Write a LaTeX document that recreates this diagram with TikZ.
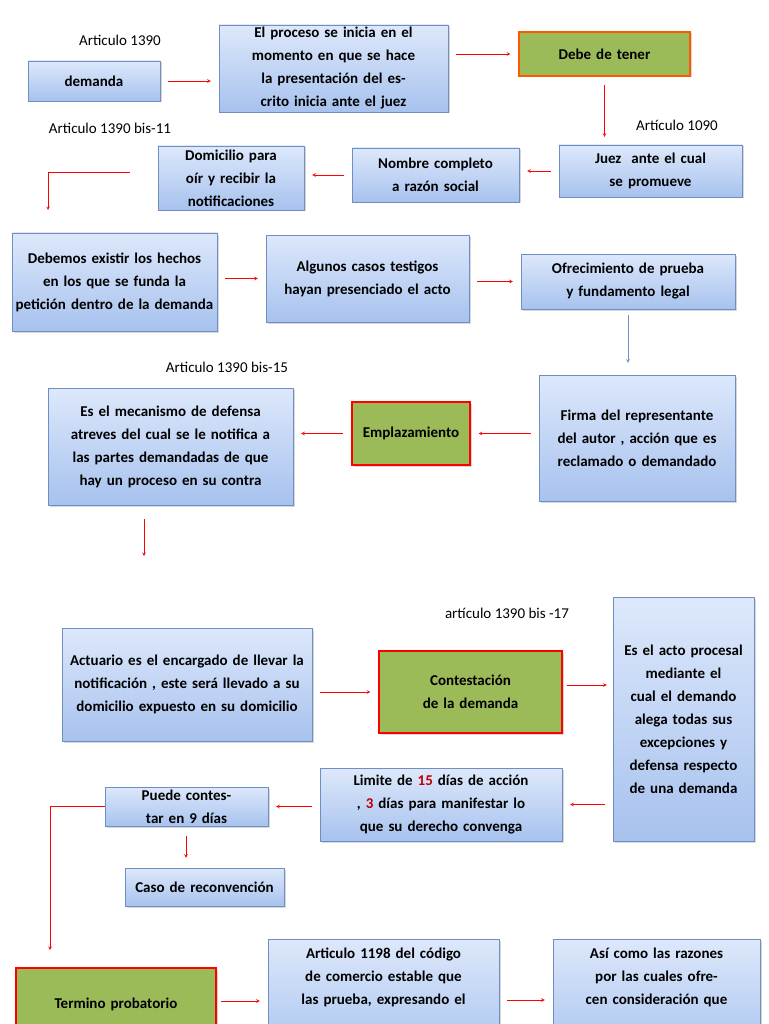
\documentclass[tikz,border=0pt]{standalone}
\usepackage{fontspec}
\setmainfont{Carlito}
\usetikzlibrary{shadows}
\definecolor{bluetop}{HTML}{DDE8FB}
\definecolor{bluebot}{HTML}{A7C2EE}
\definecolor{blueline}{HTML}{6F8FC0}
\definecolor{grn}{HTML}{9BBB59}
\definecolor{redt}{HTML}{C00000}
\tikzset{
 bx/.style={draw=blueline, top color=bluetop, bottom color=bluebot, align=center, font=\bfseries\fontsize{15}{23}\selectfont, inner sep=2pt, drop shadow={shadow xshift=1.5pt,shadow yshift=-1.5pt,opacity=0.3}},
 gb/.style={draw=red, line width=1.2pt, fill=grn, align=center, font=\bfseries\fontsize{15}{23}\selectfont, inner sep=2pt, drop shadow={shadow xshift=1.5pt,shadow yshift=-1.5pt,opacity=0.3}},
 lbl/.style={font=\fontsize{15}{18}\selectfont},
 ar/.style={->, red, >=stealth, line width=0.6pt, shorten >=8pt, shorten <=8pt},
}
\newcommand{\bbox}[7]{% style,name,x1,y1,x2,y2,text
 \pgfmathsetmacro{\cx}{(#3+#5)/2}\pgfmathsetmacro{\cy}{(#4+#6)/2}
 \pgfmathsetmacro{\ww}{#5-#3}\pgfmathsetmacro{\hh}{#6-#4}\pgfmathsetmacro{\tw}{#5-#3-6}
 \node[#1, minimum width=\ww pt, minimum height=\hh pt, text width=\tw pt] (#2) at (\cx,\cy) {#7};}
\begin{document}
\begin{tikzpicture}[x=1pt,y=-1pt]
\useasboundingbox[fill=white] (0,0) rectangle (768,1024);
\node[lbl] (l1) at (120,40) {Articulo 1390};
\node[lbl] (l2) at (110,128) {Articulo 1390 bis-11};
\node[lbl] (l3) at (677,125) {Artículo 1090};
\node[lbl] (l4) at (227,367) {Articulo 1390 bis-15};
\node[lbl] (l5) at (507,613) {artículo 1390 bis -17};
\bbox{bx}{dem}{28}{61}{160}{101}{demanda}
\bbox{bx}{pro}{219}{25}{448}{112}{El proceso se inicia en el momento en que se hace la presentación del escrito inicia ante el juez}
\bbox{gb,draw=orange!70!red}{deb}{519}{32}{690}{76}{Debe de tener}
\bbox{bx}{juez}{559}{145}{742}{197}{Juez \ ante el cual se promueve}
\bbox{bx}{nom}{352}{148}{519}{202}{Nombre completo a razón social}
\bbox{bx}{dom}{158}{146}{304}{210}{Domicilio para oír y recibir la notificaciones}
\bbox{bx}{debe}{12}{233}{217}{331}{Debemos existir los hechos en los que se funda la petición dentro de la demanda}
\bbox{bx}{alg}{266}{235}{469}{322}{Algunos casos testigos hayan presenciado el acto}
\bbox{bx}{ofr}{521}{254}{735}{309}{Ofrecimiento de prueba y fundamento legal}
\bbox{bx}{fir}{539}{375}{735}{501}{Firma del representante del autor , acción que es reclamado o demandado}
\bbox{gb}{emp}{352}{402}{470}{465}{Emplazamiento}
\bbox{bx}{mec}{48}{388}{293}{505}{Es el mecanismo de defensa atreves del cual se le notifica a las partes demandadas de que hay un proceso en su contra}
\bbox{bx}{act}{62}{628}{312}{741}{Actuario es el encargado de llevar la notificación , este será llevado a su domicilio expuesto en su domicilio}
\bbox{gb}{con}{379}{651}{562}{733}{Contestación de la demanda}
\bbox{bx}{esa}{613}{597}{754}{841}{Es el acto procesal mediante el cual el demando alega todas sus excepciones y defensa respecto de una demanda}
\bbox{bx}{lim}{320}{768}{562}{841}{Limite de {\color{redt}15} días de acción , {\color{redt}3} días para manifestar lo que su derecho convenga}
\bbox{bx}{pue}{105}{787}{268}{826}{Puede contestar en 9 días}
\bbox{bx}{cas}{125}{868}{284}{906}{Caso de reconvención}
\bbox{gb}{ter}{16}{968}{216}{1040}{Termino probatorio}
\bbox{bx}{a11}{268}{939}{499}{1060}{Articulo 1198 del código de comercio estable que las prueba, expresando el\\ \vphantom{x}\\ \vphantom{x}}
\bbox{bx}{asi}{553}{939}{760}{1060}{Así como las razones por las cuales ofrecen consideración que\\ \vphantom{x}\\ \vphantom{x}}
\draw[ar] (dem.east) -- (dem.east -| pro.west);
\draw[ar] (pro.east |- deb.west) -- (deb.west);
\draw[ar] (deb.south) -- (deb.south |- juez.north);
\draw[ar] (juez.west) -- (juez.west -| nom.east);
\draw[ar] (nom.west) -- (nom.west -| dom.east);
\coordinate (c1) at (130,172);
\coordinate (c2) at (48,210);
\draw[red,->,>=stealth,line width=0.6pt] (c1) -- (c1 -| c2) -- (c2);
\draw[ar] (debe.east |- alg.west) -- (alg.west);
\draw[ar] (alg.east |- ofr.west) -- (ofr.west);
\draw[->,>=stealth,blueline,line width=0.6pt,shorten >=12pt,shorten <=6pt] (ofr.south -| 628,0) -- (fir.north -| 628,0);
\draw[ar] (fir.west |- emp.east) -- (emp.east);
\draw[ar] (emp.west) -- (emp.west -| mec.east);
\coordinate (c3) at (144,556);
\draw[ar,shorten <=14pt,shorten >=0pt] (mec.south -| c3) -- (c3);
\draw[ar] (act.east |- con.west) -- (con.west);
\draw[ar,shorten >=6pt,shorten <=4pt] (con.east |- 0,685) -- (esa.west |- 0,685);
\draw[ar] (esa.west |- lim.east) -- (lim.east);
\draw[ar] (lim.west |- pue.east) -- (pue.east);
\draw[ar,shorten <=10pt,shorten >=10pt] (pue.south -| 186,0) -- (cas.north -| 186,0);
\coordinate (c4) at (50,950);
\draw[red,->,>=stealth,line width=0.6pt] (pue.west) -- (pue.west -| c4) -- (c4);
\draw[ar,shorten <=4pt] (ter.east |- 0,1001) -- (a11.west |- 0,1001);
\draw[ar] (a11.east |- 0,1000) -- (asi.west |- 0,1000);
\end{tikzpicture}
\end{document}
